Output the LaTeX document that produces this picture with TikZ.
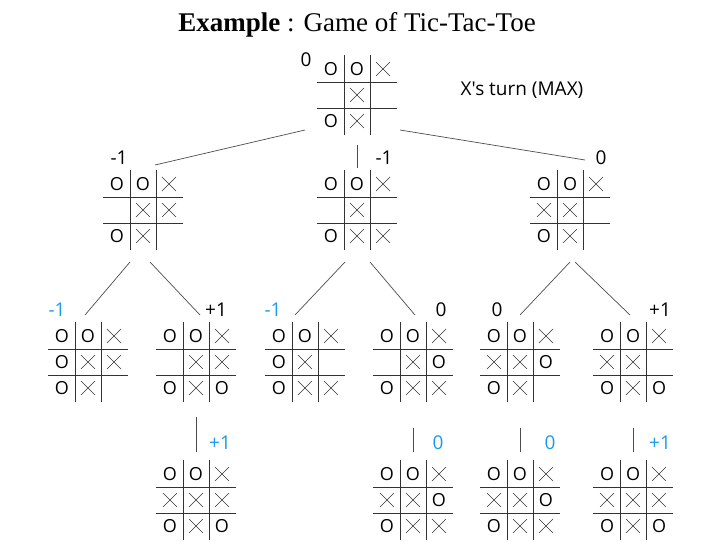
\documentclass[tikz,border=0pt]{standalone}
\usepackage{fontspec}
\setmainfont{Liberation Serif}
\newfontfamily\lab{Open Sans}
\usetikzlibrary{calc}
\definecolor{blu}{HTML}{1E9BE8}
\tikzset{grid/.style={draw=black!80,line width=0.7pt},
 conn/.style={draw=black!70,line width=0.7pt},
 omark/.style={font=\lab\fontsize{18}{18}\selectfont,inner sep=0},
 score/.style={font=\lab\fontsize{19}{19}\selectfont,inner sep=0},
 bscore/.style={score,text=blu}}
\newcommand\cello[2]{\node[omark] at (#1,#2) {O};}
\newcommand\cellx[2]{\draw[black!80,line width=0.6pt] ({#1-7},{#2-7})--({#1+7},{#2+7}) ({#1-7},{#2+7})--({#1+7},{#2-7});}
\newcommand\celle[2]{}
\newcommand\bd[4]{%
 \node[minimum size=80pt,inner sep=0] (#1) at (#2,#3) {};
 \draw[grid] ({#2-40},{#3-13})--({#2+40},{#3-13}) ({#2-40},{#3+13})--({#2+40},{#3+13})
   ({#2-13},{#3-40})--({#2-13},{#3+40}) ({#2+13},{#3-40})--({#2+13},{#3+40});
 \foreach \c [count=\i from 0] in {#4} {
  \pgfmathtruncatemacro\col{mod(\i,3)}\pgfmathtruncatemacro\row{int(\i/3)}
  \pgfmathsetmacro\cx{#2+(\col-1)*26}\pgfmathsetmacro\cy{#3+(\row-1)*26}
  \csname cell\c\endcsname{\cx}{\cy}
 }}
\begin{document}
\begin{tikzpicture}[x=1pt,y=-1pt]
\useasboundingbox (0,0) rectangle (714,559);
\node (title) at (357,25) {\fontsize{27}{27}\selectfont\textbf{Example} : Game of Tic-Tac-Toe};
\node[font=\lab\fontsize{19}{19}\selectfont] (turn) at (522,90) {X's turn (MAX)};
\bd{root}{357}{95}{o,o,x,e,x,e,o,x,e}
\bd{a}{143}{210}{o,o,x,e,x,x,o,x,e}
\bd{b}{357}{210}{o,o,x,e,x,e,o,x,x}
\bd{c}{570}{210}{o,o,x,x,x,e,o,x,e}
\bd{a1}{88}{362}{o,o,x,o,x,x,o,x,e}
\bd{a2}{196}{362}{o,o,x,e,x,x,o,x,o}
\bd{b1}{305}{362}{o,o,x,o,x,e,o,x,x}
\bd{b2}{413}{362}{o,o,x,e,x,o,o,x,x}
\bd{c1}{520}{362}{o,o,x,x,x,o,o,x,e}
\bd{c2}{633}{362}{o,o,x,x,x,e,o,x,o}
\bd{a2x}{196}{500}{o,o,x,x,x,x,o,x,o}
\bd{b2x}{413}{500}{o,o,x,x,x,o,o,x,x}
\bd{c1x}{520}{500}{o,o,x,x,x,o,o,x,x}
\bd{c2x}{633}{500}{o,o,x,x,x,x,o,x,o}
\draw[conn] ([shift={(-52,35)}]root.center)--([shift={(12,-45)}]a.center);
\draw[conn] ([shift={(0,50)}]root.center)--([shift={(0,-42)}]b.center);
\draw[conn] ([shift={(43,35)}]root.center)--([shift={(15,-50)}]c.center);
\foreach \p/\q/\dx/\ex in {a/a1/-13/-3,a/a2/7/4,b/b1/-12/-10,b/b2/13/2,c/c1/0/0,c/c2/5/-3}
 \draw[conn] ([shift={(\dx,52)}]\p.center)--([shift={(\ex,-47)}]\q.center);
\draw[conn] ([shift={(0,55)}]a2.center)--([shift={(0,-48)}]a2x.center);
\foreach \p/\q in {b2/b2x,c1/c1x,c2/c2x}
 \draw[conn] ([shift={(0,66)}]\p.center)--([shift={(0,-48)}]\q.center);
\node[score] (s0) at (306,60) {0};
\node[score] (s1) at (119,158) {-1};
\node[score] (s2) at (384,158) {-1};
\node[score] (s3) at (601,158) {0};
\node[bscore] (s4) at (57,310) {-1};
\node[score] (s5) at (216,310) {+1};
\node[bscore] (s6) at (273,310) {-1};
\node[score] (s7) at (441,310) {0};
\node[score] (s8) at (497,310) {0};
\node[score] (s9) at (660,310) {+1};
\node[bscore] (s10) at (220,443) {+1};
\node[bscore] (s11) at (438,443) {0};
\node[bscore] (s12) at (550,443) {0};
\node[bscore] (s13) at (660,443) {+1};
\end{tikzpicture}
\end{document}
